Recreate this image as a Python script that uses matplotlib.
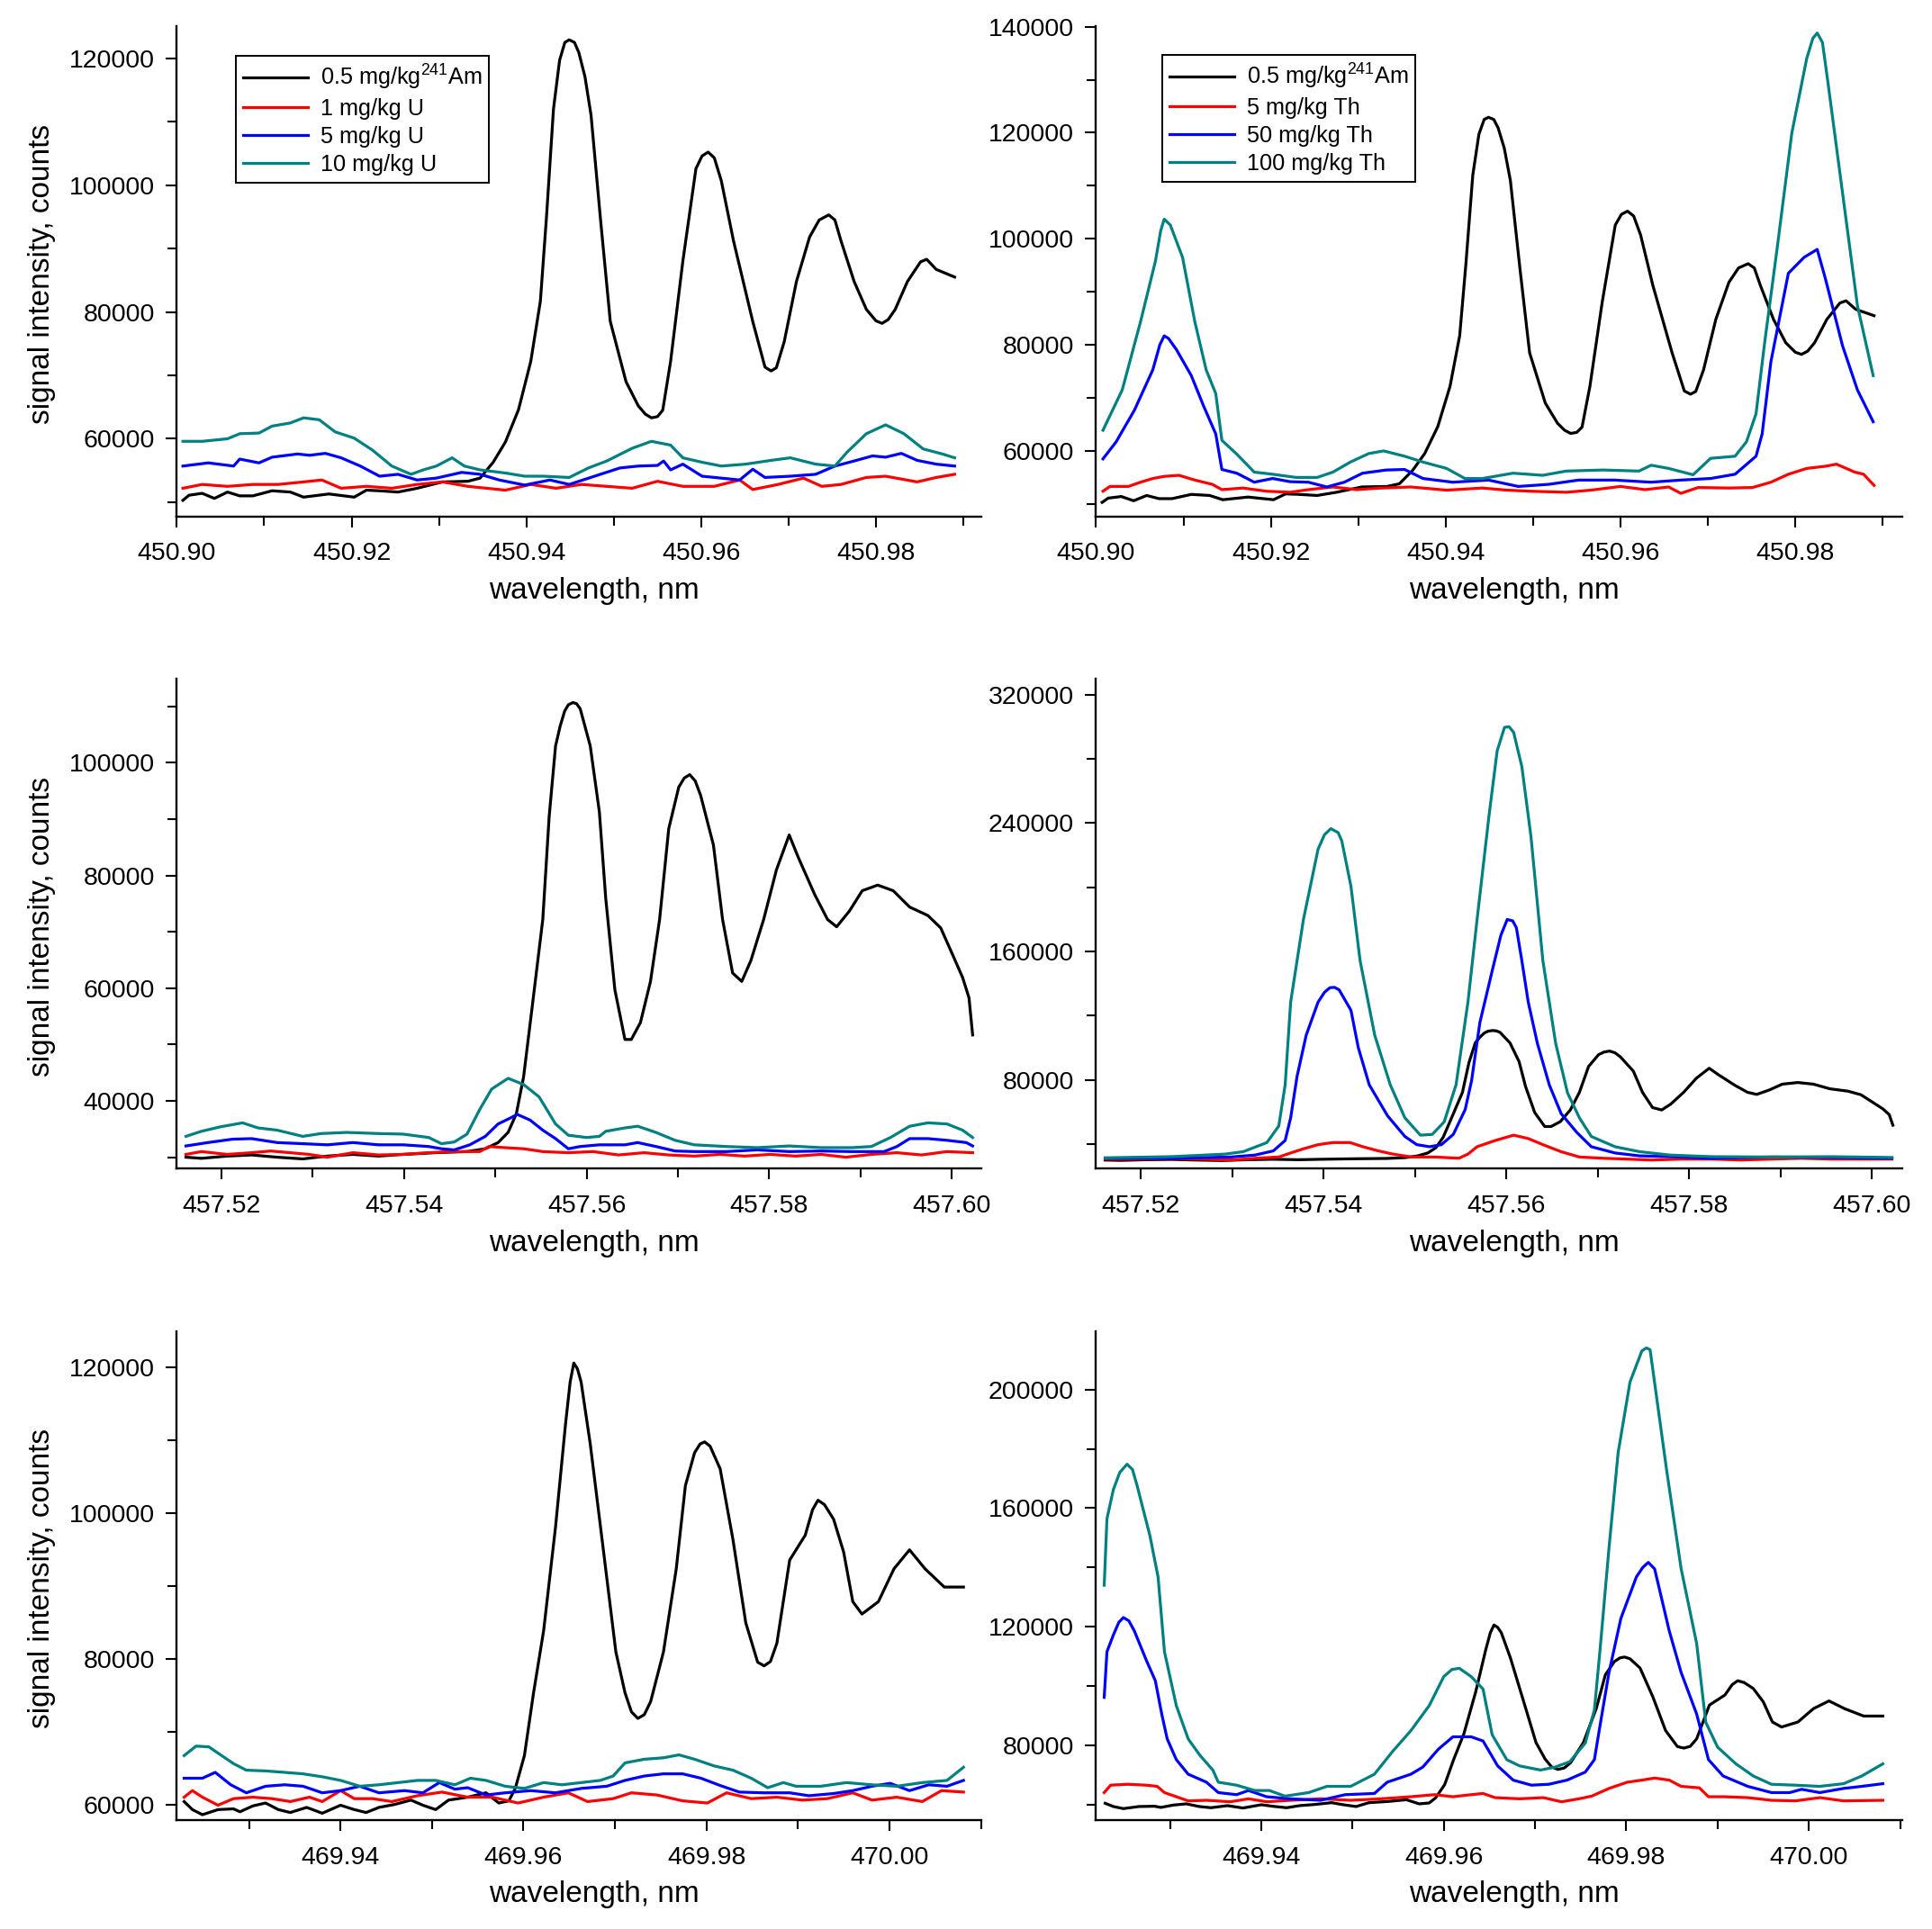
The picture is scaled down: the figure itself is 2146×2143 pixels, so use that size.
import matplotlib
matplotlib.use('Agg')
import matplotlib.pyplot as plt
from matplotlib.ticker import MultipleLocator, FormatStrFormatter

plt.rcParams['font.family'] = ['Liberation Sans', 'DejaVu Sans']
plt.rcParams['mathtext.fontset'] = 'custom'
plt.rcParams['mathtext.rm'] = 'Liberation Sans'
plt.rcParams['mathtext.it'] = 'Liberation Sans:italic'
plt.rcParams['mathtext.bf'] = 'Liberation Sans:bold'

# ---------------- 450.9 nm region ----------------
am450_x = [450.9007, 450.9014, 450.9029, 450.9043, 450.9058, 450.9072, 450.9087, 450.9109, 450.9130, 450.9145,
           450.9174, 450.9203, 450.9217, 450.9232, 450.9253, 450.9275, 450.9304, 450.9333, 450.9347, 450.9362,
           450.9376, 450.9391, 450.9405, 450.9416, 450.9423, 450.9431, 450.9438, 450.9444, 450.9449, 450.9455,
           450.9460, 450.9467, 450.9474, 450.9485, 450.9496, 450.9514, 450.9528, 450.9536, 450.9543, 450.9550,
           450.9556, 450.9565, 450.9579, 450.9594, 450.9601, 450.9608, 450.9615, 450.9623, 450.9637, 450.9659,
           450.9673, 450.9680, 450.9686, 450.9695, 450.9709, 450.9724, 450.9735, 450.9746, 450.9753, 450.9760,
           450.9775, 450.9789, 450.9800, 450.9807, 450.9814, 450.9822, 450.9836, 450.9851, 450.9858, 450.9869,
           450.9890]
am450_y = [50300, 51100, 51400, 50600, 51600, 51000, 51000, 51800, 51600, 50800,
           51300, 50800, 51900, 51800, 51600, 52200, 53200, 53300, 53800, 56300,
           59500, 64600, 72200, 81700, 95000, 112000, 119700, 122500, 122900, 122500,
           120900, 117100, 111000, 94300, 78500, 69000, 65200, 63900, 63300, 63500,
           64500, 72200, 88000, 102600, 104600, 105200, 104300, 100700, 91200, 78500,
           71300, 70700, 71200, 75300, 84800, 91800, 94500, 95300, 94500, 91200,
           84800, 80400, 78600, 78200, 78800, 80400, 84800, 87900, 88300, 86700,
           85500]

u1_450_x = [450.9007, 450.9029, 450.9058, 450.9087, 450.9116, 450.9145, 450.9166, 450.9188, 450.9217, 450.9246,
            450.9275, 450.9304, 450.9333, 450.9376, 450.9405, 450.9434, 450.9463, 450.9492, 450.9521, 450.9550,
            450.9579, 450.9615, 450.9644, 450.9659, 450.9688, 450.9717, 450.9738, 450.9760, 450.9789, 450.9811,
            450.9847, 450.9869, 450.9890]
u1_450_y = [52200, 52800, 52500, 52800, 52800, 53200, 53500, 52200, 52500, 52200,
            52800, 53200, 52500, 51900, 52800, 52200, 52800, 52500, 52200, 53300,
            52500, 52500, 53500, 52000, 52800, 53800, 52500, 52800, 53900, 54100,
            53200, 53900, 54400]

u5_450_x = [450.9007, 450.9036, 450.9065, 450.9072, 450.9094, 450.9109, 450.9138, 450.9152, 450.9170, 450.9188,
            450.9210, 450.9232, 450.9253, 450.9275, 450.9297, 450.9326, 450.9347, 450.9369, 450.9398, 450.9427,
            450.9449, 450.9478, 450.9507, 450.9528, 450.9550, 450.9557, 450.9565, 450.9579, 450.9601, 450.9630,
            450.9644, 450.9659, 450.9673, 450.9702, 450.9731, 450.9753, 450.9775, 450.9796, 450.9811, 450.9829,
            450.9847, 450.9869, 450.9890]
u5_450_y = [55700, 56200, 55700, 56800, 56200, 57100, 57600, 57400, 57700, 57000,
            55700, 54100, 54400, 53500, 53800, 54700, 54400, 53500, 52700, 53500,
            52800, 54100, 55400, 55700, 55800, 56500, 55100, 56000, 54100, 53700,
            53500, 55200, 53900, 54100, 54400, 55700, 56500, 57300, 57100, 57700,
            56600, 56000, 55700]

u10_450_x = [450.9007, 450.9029, 450.9058, 450.9072, 450.9094, 450.9109, 450.9130, 450.9145, 450.9163, 450.9181,
             450.9203, 450.9224, 450.9246, 450.9268, 450.9282, 450.9297, 450.9315, 450.9329, 450.9347, 450.9376,
             450.9398, 450.9420, 450.9449, 450.9471, 450.9492, 450.9521, 450.9543, 450.9565, 450.9579, 450.9601,
             450.9623, 450.9651, 450.9680, 450.9702, 450.9731, 450.9753, 450.9767, 450.9789, 450.9811, 450.9832,
             450.9854, 450.9876, 450.9890]
u10_450_y = [59600, 59600, 60000, 60800, 60900, 62000, 62500, 63300, 63000, 61100,
             60100, 58200, 55700, 54400, 55100, 55700, 57000, 55700, 55100, 54600,
             54100, 54100, 53900, 55400, 56500, 58500, 59600, 59000, 57000, 56300,
             55700, 56000, 56600, 57000, 56000, 55700, 57900, 60800, 62200, 60800,
             58400, 57600, 57000]

th5_450_x = [450.9008, 450.9016, 450.9037, 450.9051, 450.9065, 450.9078, 450.9095, 450.9113, 450.9133, 450.9144,
             450.9168, 450.9195, 450.9222, 450.9243, 450.9271, 450.9298, 450.9326, 450.9360, 450.9401, 450.9442,
             450.9470, 450.9497, 450.9538, 450.9566, 450.9600, 450.9628, 450.9655, 450.9669, 450.9689, 450.9724,
             450.9751, 450.9772, 450.9792, 450.9813, 450.9834, 450.9847, 450.9868, 450.9878, 450.9890]
th5_450_y = [52400, 53300, 53300, 54100, 54800, 55200, 55400, 54500, 53700, 52700,
             53000, 52400, 52200, 52700, 53200, 52700, 53000, 53200, 52600, 53000,
             52600, 52400, 52200, 52600, 53300, 52700, 53200, 52000, 53100, 53000,
             53100, 54100, 55600, 56700, 57100, 57500, 56000, 55600, 53500]

th50_450_x = [450.9008, 450.9023, 450.9044, 450.9065, 450.9073, 450.9078, 450.9083, 450.9092, 450.9109, 450.9123,
              450.9137, 450.9144, 450.9161, 450.9181, 450.9202, 450.9222, 450.9243, 450.9264, 450.9284, 450.9305,
              450.9332, 450.9353, 450.9374, 450.9408, 450.9449, 450.9483, 450.9518, 450.9552, 450.9593, 450.9635,
              450.9669, 450.9703, 450.9731, 450.9755, 450.9762, 450.9772, 450.9792, 450.9810, 450.9825, 450.9834,
              450.9854, 450.9871, 450.9889]
th50_450_y = [58500, 61700, 67700, 75300, 80000, 81700, 81200, 79100, 74200, 68500,
              63200, 56500, 55800, 54100, 54800, 54200, 54100, 53200, 54100, 55800,
              56400, 56500, 54800, 54100, 54500, 53300, 53700, 54500, 54500, 54100,
              54500, 54800, 55600, 59000, 63200, 76800, 93500, 96500, 98000, 92700,
              79800, 71500, 65500]

th100_450_x = [450.9008, 450.9030, 450.9051, 450.9068, 450.9074, 450.9078, 450.9085, 450.9099, 450.9113, 450.9126,
               450.9137, 450.9144, 450.9161, 450.9181, 450.9202, 450.9229, 450.9253, 450.9271, 450.9291, 450.9312,
               450.9329, 450.9353, 450.9374, 450.9401, 450.9422, 450.9442, 450.9477, 450.9511, 450.9538, 450.9580,
               450.9621, 450.9635, 450.9655, 450.9683, 450.9703, 450.9731, 450.9744, 450.9755, 450.9765, 450.9779,
               450.9796, 450.9813, 450.9820, 450.9825, 450.9831, 450.9837, 450.9854, 450.9871, 450.9889]
th100_450_y = [63900, 71500, 84400, 95800, 101500, 103700, 102600, 96500, 84400, 75300,
               70800, 62000, 59400, 56000, 55600, 55000, 55000, 56000, 57900, 59500,
               60000, 59000, 57900, 56700, 54800, 54800, 55800, 55400, 56200, 56400,
               56200, 57300, 56700, 55500, 58600, 59000, 61700, 67000, 80600, 98000,
               120000, 134000, 137800, 138800, 137000, 129800, 108600, 87400, 74200]

# ---------------- 457.55 nm region ----------------
am457_x = [457.5161, 457.5178, 457.5206, 457.5233, 457.5261, 457.5289, 457.5316, 457.5344, 457.5372, 457.5399,
           457.5434, 457.5469, 457.5489, 457.5503, 457.5514, 457.5523, 457.5531, 457.5541, 457.5552, 457.5559,
           457.5566, 457.5571, 457.5576, 457.5580, 457.5585, 457.5589, 457.5593, 457.5604, 457.5614, 457.5621,
           457.5631, 457.5642, 457.5649, 457.5659, 457.5670, 457.5680, 457.5690, 457.5701, 457.5707, 457.5713,
           457.5719, 457.5725, 457.5739, 457.5749, 457.5760, 457.5770, 457.5780, 457.5794, 457.5808, 457.5822,
           457.5832, 457.5850, 457.5864, 457.5874, 457.5888, 457.5902, 457.5919, 457.5936, 457.5954, 457.5974,
           457.5988, 457.6002, 457.6012, 457.6019, 457.6023]
am457_y = [30000, 29800, 30200, 30400, 30000, 29700, 30200, 30500, 30200, 30500,
           30800, 31000, 31500, 32600, 34400, 37700, 44300, 57500, 72200, 90500,
           103000, 106500, 109200, 110300, 110700, 110500, 109600, 103000, 91300, 75900,
           59700, 50900, 50900, 53900, 61200, 72200, 88300, 95700, 97300, 97900,
           96800, 94200, 85400, 72200, 62700, 61200, 64900, 72200, 81000, 87200,
           83200, 76600, 72200, 70900, 73700, 77300, 78300, 77300, 74400, 72900,
           70700, 65600, 61900, 58300, 51700]

u1_457_x = [457.5161, 457.5178, 457.5206, 457.5233, 457.5254, 457.5275, 457.5296, 457.5316, 457.5344, 457.5372,
            457.5399, 457.5427, 457.5455, 457.5483, 457.5493, 457.5510, 457.5531, 457.5552, 457.5580, 457.5607,
            457.5635, 457.5663, 457.5690, 457.5718, 457.5746, 457.5773, 457.5801, 457.5829, 457.5857, 457.5884,
            457.5912, 457.5940, 457.5967, 457.5995, 457.6023]
u1_457_y = [30500, 31000, 30500, 30800, 31100, 30800, 30500, 30000, 30800, 30400,
            30500, 30800, 31000, 31000, 31900, 31700, 31500, 31000, 30800, 31000,
            30400, 30800, 30400, 30200, 30500, 30200, 30500, 30200, 30500, 30000,
            30500, 30800, 30400, 31000, 30800]

u5_457_x = [457.5161, 457.5185, 457.5212, 457.5233, 457.5261, 457.5289, 457.5316, 457.5344, 457.5372, 457.5399,
            457.5427, 457.5441, 457.5455, 457.5472, 457.5489, 457.5503, 457.5517, 457.5524, 457.5538, 457.5552,
            457.5566, 457.5580, 457.5593, 457.5614, 457.5642, 457.5656, 457.5676, 457.5697, 457.5718, 457.5753,
            457.5787, 457.5822, 457.5857, 457.5891, 457.5926, 457.5940, 457.5954, 457.5974, 457.5995, 457.6016,
            457.6023]
u5_457_y = [32000, 32600, 33200, 33300, 32600, 32400, 32200, 32600, 32200, 32200,
            31900, 31500, 31300, 32200, 33700, 35900, 37000, 37600, 36600, 34800,
            33300, 31500, 31900, 32200, 32200, 32600, 31900, 31100, 31000, 31000,
            31300, 31000, 31100, 31000, 31000, 31900, 33300, 33300, 33000, 32600,
            32000]

u10_457_x = [457.5161, 457.5178, 457.5199, 457.5223, 457.5240, 457.5261, 457.5289, 457.5309, 457.5337, 457.5372,
             457.5399, 457.5427, 457.5441, 457.5455, 457.5469, 457.5483, 457.5496, 457.5514, 457.5531, 457.5548,
             457.5566, 457.5580, 457.5600, 457.5614, 457.5621, 457.5642, 457.5656, 457.5676, 457.5697, 457.5718,
             457.5753, 457.5787, 457.5822, 457.5857, 457.5891, 457.5912, 457.5933, 457.5954, 457.5974, 457.5995,
             457.6012, 457.6023]
u10_457_y = [33700, 34600, 35400, 36100, 35200, 34800, 33700, 34200, 34400, 34200,
             34100, 33500, 32400, 32700, 34100, 38500, 42100, 44000, 42900, 40700,
             35900, 33900, 33500, 33700, 34600, 35200, 35500, 34400, 33000, 32200,
             31900, 31700, 32000, 31700, 31700, 31900, 33500, 35500, 36100, 35900,
             34800, 33500]

th5_457_x = [457.5161, 457.5200, 457.5233, 457.5266, 457.5299, 457.5325, 457.5351, 457.5364, 457.5378, 457.5394,
             457.5410, 457.5429, 457.5443, 457.5460, 457.5476, 457.5496, 457.5522, 457.5548, 457.5558, 457.5568,
             457.5588, 457.5608, 457.5624, 457.5640, 457.5660, 457.5680, 457.5706, 457.5732, 457.5759, 457.5792,
             457.5825, 457.5857, 457.5890, 457.5923, 457.5956, 457.5989, 457.6022]
th5_457_y = [30600, 30600, 31100, 30600, 30000, 31100, 31900, 34400, 37000, 39600,
             40900, 40900, 38300, 35700, 33700, 31900, 31900, 31100, 33700, 38300,
             42200, 45500, 43400, 39600, 35200, 31900, 31100, 30600, 30000, 30600,
             30600, 30000, 30600, 31100, 30600, 30600, 30600]

th50_457_x = [457.5161, 457.5233, 457.5299, 457.5325, 457.5345, 457.5358, 457.5364, 457.5371, 457.5381, 457.5394,
              457.5401, 457.5407, 457.5412, 457.5417, 457.5430, 457.5438, 457.5450, 457.5470, 457.5489, 457.5502,
              457.5516, 457.5529, 457.5542, 457.5555, 457.5562, 457.5571, 457.5585, 457.5594, 457.5601, 457.5607,
              457.5611, 457.5617, 457.5624, 457.5634, 457.5647, 457.5660, 457.5677, 457.5693, 457.5719, 457.5746,
              457.5792, 457.5825, 457.5890, 457.5956, 457.6022]
th50_457_y = [31100, 31100, 31900, 33100, 35700, 42200, 56300, 82100, 107800, 128400,
              134500, 137400, 137600, 136100, 123300, 100100, 76900, 57600, 44700, 39600,
              38300, 39600, 46000, 61500, 79500, 115500, 149000, 170000, 179900, 179000,
              174800, 154200, 128400, 102700, 76900, 58900, 47300, 38300, 34400, 32600,
              31900, 31100, 31900, 31600, 31100]

th100_457_x = [457.5161, 457.5233, 457.5292, 457.5312, 457.5338, 457.5351, 457.5358, 457.5364, 457.5378, 457.5394,
               457.5401, 457.5408, 457.5416, 457.5420, 457.5430, 457.5440, 457.5456, 457.5473, 457.5489, 457.5506,
               457.5519, 457.5532, 457.5545, 457.5558, 457.5568, 457.5581, 457.5590, 457.5598, 457.5603, 457.5608,
               457.5617, 457.5627, 457.5640, 457.5654, 457.5667, 457.5680, 457.5693, 457.5719, 457.5746, 457.5779,
               457.5825, 457.5890, 457.5956, 457.6022]
th100_457_y = [31400, 32100, 33700, 35200, 40900, 51200, 76900, 128400, 179900, 223700,
               232700, 236500, 234000, 228800, 200500, 154200, 107800, 76900, 56300, 45500,
               46000, 53800, 76900, 128400, 179900, 244300, 285000, 299600, 300000, 296500,
               275100, 231400, 154200, 102700, 71800, 56300, 44700, 38300, 35200, 33100,
               32100, 31900, 32100, 31600]

# ---------------- 469.97 nm region ----------------
am469_x = [469.9229, 469.9238, 469.9249, 469.9266, 469.9283, 469.9290, 469.9304, 469.9318, 469.9332, 469.9345,
           469.9363, 469.9380, 469.9400, 469.9415, 469.9428, 469.9442, 469.9459, 469.9477, 469.9490, 469.9504,
           469.9518, 469.9539, 469.9559, 469.9573, 469.9584, 469.9591, 469.9601, 469.9611, 469.9622, 469.9635,
           469.9646, 469.9651, 469.9655, 469.9659, 469.9663, 469.9673, 469.9687, 469.9701, 469.9711, 469.9718,
           469.9725, 469.9732, 469.9739, 469.9753, 469.9767, 469.9777, 469.9787, 469.9793, 469.9798, 469.9804,
           469.9815, 469.9829, 469.9843, 469.9856, 469.9863, 469.9870, 469.9877, 469.9891, 469.9908, 469.9916,
           469.9922, 469.9929, 469.9939, 469.9950, 469.9960, 469.9970, 469.9988, 470.0005, 470.0022, 470.0039,
           470.0060, 470.0081]
am469_y = [60500, 59400, 58700, 59400, 59500, 59100, 59900, 60300, 59400, 59000,
           59700, 58900, 60000, 59400, 59000, 59700, 60100, 60700, 60000, 59400,
           60700, 61100, 61700, 60300, 60600, 62300, 66800, 75400, 83900, 98100,
           112300, 118000, 120600, 119800, 118000, 109500, 95300, 81000, 75400, 72800,
           71900, 72400, 74200, 81000, 92400, 103800, 108300, 109500, 109800, 109200,
           106100, 96400, 85000, 79600, 79100, 79700, 82200, 93600, 97000, 100500,
           101800, 101200, 99200, 94700, 87900, 86200, 87900, 92400, 95000, 92400,
           89900, 89900]

u1_469_x = [469.9229, 469.9238, 469.9249, 469.9266, 469.9283, 469.9304, 469.9325, 469.9345, 469.9366, 469.9380,
            469.9400, 469.9415, 469.9435, 469.9456, 469.9484, 469.9511, 469.9539, 469.9566, 469.9594, 469.9622,
            469.9649, 469.9670, 469.9698, 469.9718, 469.9746, 469.9774, 469.9801, 469.9822, 469.9849, 469.9877,
            469.9905, 469.9932, 469.9960, 469.9981, 470.0008, 470.0036, 470.0057, 470.0081]
u1_469_y = [61100, 62000, 61100, 60000, 60900, 61100, 60900, 60500, 61100, 60500,
            62000, 60900, 60900, 60500, 61300, 61800, 61100, 61100, 60300, 61100,
            61700, 60500, 60900, 61700, 61400, 60600, 60300, 61700, 60900, 61100,
            60700, 60900, 61700, 60700, 61100, 60500, 62000, 61800]

u5_469_x = [469.9229, 469.9249, 469.9263, 469.9280, 469.9297, 469.9318, 469.9339, 469.9359, 469.9380, 469.9400,
            469.9421, 469.9442, 469.9470, 469.9490, 469.9508, 469.9525, 469.9539, 469.9559, 469.9580, 469.9608,
            469.9635, 469.9663, 469.9691, 469.9711, 469.9732, 469.9753, 469.9774, 469.9794, 469.9815, 469.9836,
            469.9863, 469.9891, 469.9912, 469.9939, 469.9960, 469.9981, 470.0001, 470.0022, 470.0043, 470.0063,
            470.0081]
u5_469_y = [63700, 63700, 64500, 62800, 61700, 62600, 62800, 62600, 61700, 62000,
            62600, 61700, 62000, 61700, 63100, 62200, 62400, 61400, 61700, 62000,
            61700, 62300, 62600, 63400, 64000, 64300, 64300, 63700, 62700, 61800,
            61700, 61700, 61300, 61600, 62000, 62600, 63000, 62000, 62800, 62600,
            63400]

u10_469_x = [469.9229, 469.9242, 469.9256, 469.9270, 469.9283, 469.9297, 469.9318, 469.9339, 469.9359, 469.9380,
             469.9400, 469.9421, 469.9442, 469.9463, 469.9484, 469.9504, 469.9525, 469.9542, 469.9559, 469.9580,
             469.9601, 469.9622, 469.9642, 469.9663, 469.9684, 469.9698, 469.9711, 469.9732, 469.9753, 469.9770,
             469.9787, 469.9808, 469.9829, 469.9849, 469.9867, 469.9884, 469.9898, 469.9925, 469.9953, 469.9981,
             470.0008, 470.0036, 470.0063, 470.0081]
u10_469_y = [66800, 68100, 68000, 66800, 65700, 64800, 64700, 64500, 64300, 63900,
             63400, 62600, 62800, 63100, 63400, 63400, 62800, 63700, 63400, 62600,
             62300, 63100, 62800, 63100, 63400, 64000, 65800, 66300, 66500, 66900,
             66300, 65400, 64800, 63700, 62400, 63100, 62600, 62600, 63100, 62800,
             62600, 63100, 63400, 65200]

th5_469_x = [469.9228, 469.9235, 469.9254, 469.9274, 469.9286, 469.9294, 469.9307, 469.9320, 469.9340, 469.9366,
             469.9386, 469.9406, 469.9432, 469.9465, 469.9498, 469.9531, 469.9564, 469.9590, 469.9610, 469.9630,
             469.9643, 469.9656, 469.9683, 469.9709, 469.9729, 469.9748, 469.9762, 469.9781, 469.9801, 469.9817,
             469.9831, 469.9847, 469.9860, 469.9880, 469.9890, 469.9906, 469.9933, 469.9959, 469.9985, 470.0012,
             470.0038, 470.0081]
th5_469_y = [64100, 66600, 66900, 66600, 66200, 64100, 62700, 61300, 61500, 61000,
             62000, 61000, 61500, 62000, 61500, 62000, 62700, 63400, 62700, 63400,
             63800, 62400, 62000, 62400, 61000, 62000, 62900, 65500, 67600, 68300,
             69000, 68300, 66200, 65700, 62700, 62700, 62400, 61500, 61300, 62400,
             61300, 61500]

th50_469_x = [469.9228, 469.9231, 469.9238, 469.9244, 469.9249, 469.9255, 469.9261, 469.9274, 469.9284, 469.9291,
              469.9297, 469.9307, 469.9320, 469.9340, 469.9353, 469.9373, 469.9386, 469.9406, 469.9432, 469.9465,
              469.9492, 469.9524, 469.9538, 469.9564, 469.9577, 469.9594, 469.9610, 469.9630, 469.9643, 469.9659,
              469.9676, 469.9696, 469.9715, 469.9735, 469.9755, 469.9765, 469.9771, 469.9781, 469.9794, 469.9811,
              469.9818, 469.9824, 469.9831, 469.9847, 469.9860, 469.9877, 469.9890, 469.9906, 469.9933, 469.9959,
              469.9979, 469.9992, 470.0012, 470.0038, 470.0058, 470.0081]
th50_469_y = [96200, 111600, 117200, 121500, 123100, 122000, 118600, 108800, 101800, 90600,
              82200, 75200, 70300, 67600, 64100, 63400, 64800, 62700, 62000, 61500,
              63400, 63800, 67600, 70300, 72700, 78700, 82900, 82900, 81500, 73100,
              68300, 66600, 66900, 68300, 71000, 75200, 86400, 104600, 122800, 136800,
              140000, 141700, 139500, 118600, 104600, 90600, 75200, 69700, 66200, 64100,
              64100, 65200, 64100, 65500, 66200, 67100]

th100_469_x = [469.9228, 469.9231, 469.9238, 469.9245, 469.9253, 469.9259, 469.9264, 469.9278, 469.9287, 469.9294,
               469.9307, 469.9320, 469.9333, 469.9347, 469.9353, 469.9373, 469.9393, 469.9409, 469.9426, 469.9452,
               469.9472, 469.9498, 469.9524, 469.9544, 469.9564, 469.9584, 469.9600, 469.9609, 469.9617, 469.9630,
               469.9643, 469.9653, 469.9669, 469.9683, 469.9706, 469.9722, 469.9738, 469.9755, 469.9765, 469.9771,
               469.9781, 469.9791, 469.9804, 469.9817, 469.9822, 469.9826, 469.9834, 469.9844, 469.9860, 469.9877,
               469.9887, 469.9900, 469.9920, 469.9939, 469.9959, 469.9985, 470.0012, 470.0038, 470.0058, 470.0081]
th100_469_y = [134000, 156400, 166200, 172000, 174800, 173000, 167600, 150800, 136800, 111600,
               93400, 82200, 76600, 71700, 67600, 66600, 64800, 64800, 62900, 64100,
               66200, 66200, 70300, 78000, 85000, 93400, 103200, 105600, 106000, 103200,
               99000, 83600, 75200, 73100, 71700, 72700, 74500, 80800, 92000, 111600,
               146600, 178700, 202500, 213000, 214000, 213400, 195500, 173100, 139600, 114400,
               87800, 79400, 73800, 69700, 66900, 66600, 66200, 67100, 69700, 73800]

am_label = r'0.5 mg/kg$^{\mathregular{241}}$Am'
u_labels = ['1 mg/kg U', '5 mg/kg U', '10 mg/kg U']
th_labels = ['5 mg/kg Th', '50 mg/kg Th', '100 mg/kg Th']
colors = ['#000000', '#ff0000', '#0000ff', '#008080']
xlabel = 'wavelength, nm'
ylabel = 'signal intensity, counts'

W, H = 2146, 2143
fig = plt.figure(figsize=(W / 100, H / 100), dpi=100)

col_l = [196.4, 1217.4]
col_r = [1089.5, 2112.7]
row_t = [29.0, 754.2, 1479.0]
row_b = [573.7, 1298.3, 2022.1]


def make_ax(r, c):
    l = col_l[c] / W
    w = (col_r[c] - col_l[c]) / W
    b = 1 - row_b[r] / H
    h = (row_b[r] - row_t[r]) / H
    return fig.add_axes([l, b, w, h])


def style(ax, xlim, ylim, xmaj, xmin_, ymaj, ymin_, show_ylabel):
    ax.set_xlim(*xlim)
    ax.set_ylim(*ylim)
    for s in ['top', 'right']:
        ax.spines[s].set_visible(False)
    for s in ['left', 'bottom']:
        ax.spines[s].set_linewidth(1.7)
    ax.xaxis.set_major_locator(MultipleLocator(xmaj))
    ax.xaxis.set_minor_locator(MultipleLocator(xmin_))
    ax.yaxis.set_major_locator(MultipleLocator(ymaj))
    ax.yaxis.set_minor_locator(MultipleLocator(ymin_))
    ax.xaxis.set_major_formatter(FormatStrFormatter('%.2f'))
    ax.yaxis.set_major_formatter(FormatStrFormatter('%d'))
    ax.tick_params(which='major', direction='out', length=8.5, width=1.5, labelsize=20.5)
    ax.tick_params(which='minor', direction='out', length=7.5, width=1.5)
    ax.tick_params(axis='x', which='major', pad=12)
    ax.tick_params(axis='y', which='major', pad=9)
    ax.text(0.519, -0.152, xlabel, transform=ax.transAxes, ha='center', va='center', fontsize=24)
    if show_ylabel:
        ax.text(-0.168, 0.495, ylabel, transform=ax.transAxes, ha='center', va='center',
                rotation=90, fontsize=24)


def draw(ax, series, labels):
    for (x, y), lab, col in zip(series, labels, colors):
        ax.plot(x, y, color=col, lw=2.3, label=lab, solid_joinstyle='round')


def legend(ax, anchor):
    lg = ax.legend(loc='upper left', bbox_to_anchor=anchor, fontsize=18.2, frameon=True,
                   fancybox=False, edgecolor='black', framealpha=1, borderaxespad=0,
                   borderpad=0.3, labelspacing=0.28, handlelength=2.85, handletextpad=0.55)
    lg.get_frame().set_linewidth(1.4)


# Row 1
ax = make_ax(0, 0)
draw(ax, [(am450_x, am450_y), (u1_450_x, u1_450_y), (u5_450_x, u5_450_y), (u10_450_x, u10_450_y)],
     [am_label] + u_labels)
style(ax, (450.90, 450.992), (47760, 125070), 0.02, 0.01, 20000, 10000, True)
legend(ax, (0.0735, 0.9394))

ax = make_ax(0, 1)
draw(ax, [(am450_x, am450_y), (th5_450_x, th5_450_y), (th50_450_x, th50_450_y), (th100_450_x, th100_450_y)],
     [am_label] + th_labels)
style(ax, (450.90, 450.9922), (47650, 140100), 0.02, 0.01, 20000, 10000, False)
legend(ax, (0.0822, 0.9413))

# Row 2
ax = make_ax(1, 0)
draw(ax, [(am457_x, am457_y), (u1_457_x, u1_457_y), (u5_457_x, u5_457_y), (u10_457_x, u10_457_y)],
     [am_label] + u_labels)
style(ax, (457.5151, 457.6032), (27970, 114900), 0.02, 0.01, 20000, 10000, True)

ax = make_ax(1, 1)
draw(ax, [(am457_x, am457_y), (th5_457_x, th5_457_y), (th50_457_x, th50_457_y), (th100_457_x, th100_457_y)],
     [am_label] + th_labels)
style(ax, (457.5151, 457.6033), (24640, 329800), 0.02, 0.01, 80000, 40000, False)

# Row 3
ax = make_ax(2, 0)
draw(ax, [(am469_x, am469_y), (u1_469_x, u1_469_y), (u5_469_x, u5_469_y), (u10_469_x, u10_469_y)],
     [am_label] + u_labels)
style(ax, (469.9221, 470.0100), (57950, 124950), 0.02, 0.01, 20000, 10000, True)

ax = make_ax(2, 1)
draw(ax, [(am469_x, am469_y), (th5_469_x, th5_469_y), (th50_469_x, th50_469_y), (th100_469_x, th100_469_y)],
     [am_label] + th_labels)
style(ax, (469.9219, 470.0102), (54800, 219600), 0.02, 0.01, 40000, 20000, False)

fig.savefig('out.png', dpi=100)
